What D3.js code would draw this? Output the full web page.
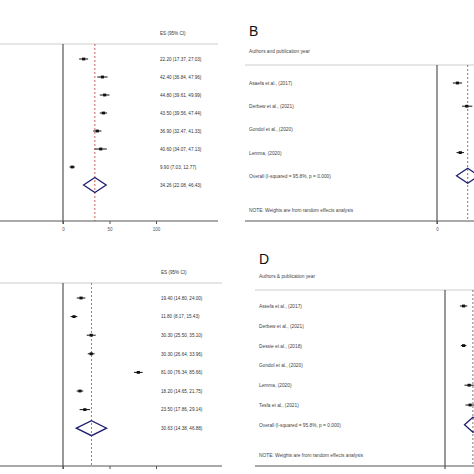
<!DOCTYPE html>
<html><head><meta charset="utf-8">
<script src="https://cdn.jsdelivr.net/npm/d3@7"></script>
<style>
body{margin:0;background:#fff}
svg{font-family:"Liberation Sans",Arial,sans-serif}
</style></head>
<body><svg id="c" width="474" height="474"></svg>
<script>
// panel A (left part cropped away)
var aES = [22.20, 42.40, 44.80, 43.50, 36.90, 40.60, 9.90];
var aLo = [17.37, 36.84, 39.61, 39.56, 32.47, 34.07, 7.03];
var aHi = [27.03, 47.96, 49.99, 47.44, 41.33, 47.13, 12.77];
var aOverall = [34.26, 22.08, 46.43];
// panel C
var cES = [19.40, 11.80, 30.30, 30.30, 81.00, 18.20, 23.50];
var cLo = [14.80, 8.17, 25.50, 26.64, 76.34, 14.65, 17.86];
var cHi = [24.00, 15.43, 35.10, 33.96, 85.66, 21.75, 29.14];
var cOverall = [30.63, 14.38, 46.88];
var axisTicks = [0, 50, 100];
// panel B
var bStudies = ['Asaefa et al., (2017)', 'Derbew et al., (2021)', 'Gondol et al., (2020)', 'Lemma, (2020)'];
var bES = [22, 32, null, 25];
var bLo = [17, 27, null, 21];
var bHi = [27, 38, null, 29];
var bOverall = [33, 21, 45];
// panel D
var dStudies = ['Assefa et al., (2017)', 'Derbew et al., (2021)', 'Dessie et al., (2018)', 'Gondol et al., (2020)', 'Lemma, (2020)', 'Tesfa et al., (2021)'];
var dES = [20, null, 20, null, 26, 27];
var dLo = [16, null, 17, null, 21, 22];
var dHi = [24, null, 23, null, 31, 33];
var dOverall = [30, 21, 48];

var svg = d3.select('#c');
var fmt = d3.format('.2f');

function fmtCI(e, l, h) { return fmt(e) + ' (' + fmt(l) + ', ' + fmt(h) + ')'; }

function panel(o) {
  var g = svg.append('g');
  var x = d3.scaleLinear().domain([0, 100]).range([o.x0, o.x0 + 93]);
  var n = o.es.length;
  var y = d3.scaleLinear().domain([0, n]).range([o.y0, o.y0 + o.step * n]);

  g.append('line').attr('x1', o.left).attr('x2', o.right).attr('y1', o.head).attr('y2', o.head)
    .attr('stroke', '#ccc').attr('stroke-width', 1);
  g.append('line').attr('x1', x(0)).attr('x2', x(0)).attr('y1', o.head).attr('y2', o.axisY + 3)
    .attr('stroke', '#333').attr('stroke-width', 1);
  g.append('line').attr('x1', x(o.overall[0])).attr('x2', x(o.overall[0])).attr('y1', o.head).attr('y2', o.axisY)
    .attr('stroke', o.dashColor).attr('stroke-width', 0.8).attr('stroke-dasharray', '2,2');
  g.append('line').attr('x1', o.left).attr('x2', o.right).attr('y1', o.axisY).attr('y2', o.axisY)
    .attr('stroke', '#555').attr('stroke-width', 1.2);

  if (o.ticks) {
    var ax = g.append('g').attr('transform', 'translate(0,' + o.axisY + ')')
      .call(d3.axisBottom(x).tickValues(o.ticks).tickSize(3).tickPadding(4));
    ax.select('.domain').remove();
    ax.selectAll('text').attr('font-size', 4.5).attr('fill', '#555');
    if (o.noTickText) ax.selectAll('text').remove();
    ax.selectAll('line').attr('stroke', '#555');
  }

  for (var i = 0; i < n; i++) {
    var yy = y(i);
    if (o.labels) g.append('text').attr('x', o.labelX).attr('y', yy + 2).attr('font-size', 4.8).attr('fill', '#444').text(o.labels[i]);
    if (o.es[i] == null) continue;
    g.append('line').attr('x1', x(o.lo[i])).attr('x2', x(o.hi[i])).attr('y1', yy).attr('y2', yy)
      .attr('stroke', '#111').attr('stroke-width', 1);
    g.append('rect').attr('x', x(o.es[i]) - 1.6).attr('y', yy - 1.4).attr('width', 3.2).attr('height', 2.8).attr('fill', '#111');
    if (o.ciX) g.append('text').attr('x', o.ciX).attr('y', yy + 1.8).attr('font-size', 4.6).attr('fill', '#333')
      .text(fmtCI(o.es[i], o.lo[i], o.hi[i]));
  }
  var oy = y(n);
  var ov = o.overall;
  g.append('path').attr('d', 'M' + x(ov[1]) + ',' + oy + 'L' + x(ov[0]) + ',' + (oy - 7.5) + 'L' + x(ov[2]) + ',' + oy + 'L' + x(ov[0]) + ',' + (oy + 7.5) + 'Z')
    .attr('fill', 'none').attr('stroke', '#1f1f6e').attr('stroke-width', 1.3);
  if (o.labels) g.append('text').attr('x', o.labelX).attr('y', oy + 2).attr('font-size', 4.8).attr('fill', '#444')
    .text('Overall  (I-squared = 95.8%, p = 0.000)');
  if (o.ciX) {
    g.append('text').attr('x', o.ciX).attr('y', oy + 1.8).attr('font-size', 4.6).attr('fill', '#333').text(fmtCI(ov[0], ov[1], ov[2]));
    g.append('text').attr('x', o.ciX).attr('y', o.head - 9).attr('font-size', 4.6).attr('fill', '#333').text('ES (95% CI)');
  }
  if (o.letter) {
    g.append('text').attr('x', o.labelX).attr('y', o.letterY).attr('font-size', 14).attr('fill', '#111').text(o.letter);
    g.append('text').attr('x', o.labelX).attr('y', o.head - 12).attr('font-size', 4.8).attr('fill', '#444').text(o.title);
    g.append('text').attr('x', o.labelX).attr('y', o.axisY - 9).attr('font-size', 4.8).attr('fill', '#444')
      .text('NOTE: Weights are from random effects analysis');
  }
}

panel({ x0: 63, y0: 59, step: 18, head: 44, axisY: 221, left: 0, right: 218, es: aES, lo: aLo, hi: aHi,
  overall: aOverall, ticks: axisTicks, ciX: 160, dashColor: '#c0392b' });
panel({ x0: 63, y0: 298, step: 18.6, head: 283, axisY: 466, left: 0, right: 222, es: cES, lo: cLo, hi: cHi,
  overall: cOverall, ticks: axisTicks, noTickText: true, ciX: 161, dashColor: '#8a5a5a' });
panel({ x0: 437, y0: 83, step: 23.2, head: 65, axisY: 221, left: 245, right: 474, es: bES, lo: bLo, hi: bHi,
  overall: bOverall, ticks: [0], labels: bStudies, labelX: 249, letter: 'B', letterY: 36, title: 'Authors and publication year', dashColor: '#555' });
panel({ x0: 445, y0: 306, step: 19.8, head: 290, axisY: 466, left: 255, right: 474, es: dES, lo: dLo, hi: dHi,
  overall: dOverall, labels: dStudies, labelX: 259, letter: 'D', letterY: 264, title: 'Authors & publication year', dashColor: '#555' });
</script></body></html>
